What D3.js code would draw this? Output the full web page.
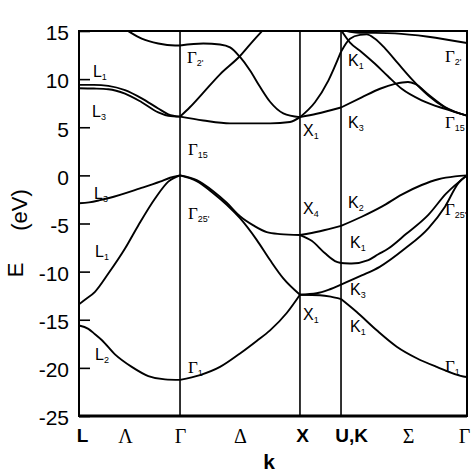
<!DOCTYPE html>
<html><head><meta charset="utf-8">
<script src="https://cdn.jsdelivr.net/npm/d3@7"></script>
<style>body{margin:0;background:#fff} svg{display:block}</style>
</head><body><svg id="c" width="474" height="474"></svg>
<script>
// high-symmetry k positions (L, Γ, X, U/K, Γ)
const kPoints = [0, 0.854, 1.868, 2.215, 3.280];
const kTickPos = [0, 0.427, 0.854, 1.361, 1.868, 2.215, 2.747, 3.280];
const kTickLabels = ["L", "Λ", "Γ", "Δ", "X", "U,K", "Σ", "Γ"];
const eTicks = [15, 10, 5, 0, -5, -10, -15, -20, -25];

// bands as [k, E(eV)]
const bandV1 = [[0,-15.6],[0.079,-15.95],[0.135,-16.5],[0.192,-17.1],[0.304,-18.6],[0.446,-19.9],[0.586,-20.85],[0.727,-21.2],[0.854,-21.25],
  [1.023,-20.75],[1.192,-19.9],[1.361,-18.5],[1.502,-17.2],[1.615,-16.1],[1.756,-14.3],[1.868,-12.4],
  [2.037,-12.45],[2.128,-12.6],[2.215,-12.85],
  [2.348,-14.2],[2.517,-16.1],[2.686,-17.8],[2.855,-19.0],[3.024,-19.9],[3.249,-20.9],[3.28,-20.95]];
const bandV2 = [[0,-13.4],[0.036,-13.05],[0.135,-12.1],[0.248,-10.2],[0.389,-7.6],[0.501,-5.2],[0.643,-2.4],[0.755,-0.65],[0.854,0],
  [0.995,-0.6],[1.135,-1.85],[1.249,-3.05],[1.361,-4.45],[1.502,-6.7],[1.615,-8.8],[1.727,-10.7],[1.868,-12.4],
  [2.009,-12.25],[2.108,-11.9],[2.215,-11.35],
  [2.39,-10.4],[2.542,-9.5],[2.756,-7.6],[2.953,-5.5],[3.094,-3.25],[3.207,-0.8],[3.28,0]];
const bandV3 = [[0,-2.9],[0.085,-2.8],[0.169,-2.6],[0.254,-2.35],[0.516,-1.35],[0.685,-0.65],[0.77,-0.25],[0.854,0],
  [0.995,-0.5],[1.135,-1.65],[1.249,-2.85],[1.361,-4.25],[1.474,-5.2],[1.587,-5.9],[1.699,-6.1],[1.868,-6.2],
  [2.037,-5.8],[2.215,-5.25],
  [2.39,-4.3],[2.559,-3.25],[2.728,-2.0],[2.897,-1.0],[3.038,-0.4],[3.179,-0.1],[3.28,0]];
const bandV4 = [[1.868,-6.2],[1.967,-6.8],[2.080,-8.1],[2.164,-8.9],[2.215,-9.1],
  [2.305,-9.15],[2.446,-8.8],[2.53,-8.2],[2.615,-7.6],[2.764,-6.1],[2.953,-4.1],[3.103,-1.9],[3.28,0]];
const bandC1 = [[0,9.4],[0.125,9.4],[0.248,9.3],[0.389,8.85],[0.53,8.0],[0.67,6.95],[0.755,6.35],[0.854,6.1],
  [0.939,7.1],[1.051,8.6],[1.192,10.5],[1.361,12.4],[1.474,14.0],[1.556,15.1],[1.699,17.0]];
const bandC2 = [[0,9.05],[0.125,9.02],[0.248,8.95],[0.389,8.5],[0.53,7.6],[0.67,6.55],[0.755,6.2],[0.854,6.1],
  [1.051,5.7],[1.277,5.4],[1.615,5.4],[1.784,5.55],[1.868,6.05],
  [2.009,6.4],[2.215,7.05],
  [2.39,8.1],[2.545,9.0],[2.671,9.5],[2.781,9.7],[2.841,9.5],[2.953,8.4],[3.094,7.1],[3.28,6.2]];
const bandC3 = [[0,17.5],[0.262,16.2],[0.414,15.0],[0.53,14.2],[0.67,13.7],[0.812,13.5],[0.854,13.5],
  [1.051,13.7],[1.192,13.6],[1.277,13.3],[1.361,12.3],[1.446,10.9],[1.53,9.2],[1.615,7.65],[1.727,6.45],[1.868,6.05],
  [1.995,7.6],[2.108,9.85],[2.215,12.85],
  [2.291,14.2],[2.376,14.6],[2.432,14.65],[2.502,14.2],[2.587,13.2],[2.699,11.6],[2.813,10.0],[2.883,9.1],[2.953,8.3],[3.094,7.05],[3.28,6.2]];
const bandC4 = [[2.215,15.1],[2.291,13.8],[2.39,12.8],[2.502,11.6],[2.612,10.3],[2.728,9.0],[2.897,7.8],[3.094,6.9],[3.28,6.2]];
const bandC5 = [[2.215,15.3],[2.249,15.05],[2.34,14.85],[2.671,14.75],[2.953,14.4],[3.28,13.75]];
const bands = [bandV1, bandV2, bandV3, bandV4, bandC1, bandC2, bandC3, bandC4, bandC5];

// symmetry labels: main letter, subscript, anchor [k, E]
const symLabels = [
  ["L","1",0.118,10.22],["L","3",0.110,6.06],["L","3",0.127,-2.45],["L","1",0.135,-8.48],["L","2",0.135,-19.18],
  ["Γ","2'",0.913,11.68],["Γ","15",0.921,2.12],["Γ","25'",0.921,-4.53],["Γ","1",0.921,-20.53],
  ["X","1",1.894,4.09],["X","4",1.894,-4.01],["X","1",1.894,-15.03],
  ["K","1",2.274,11.36],["K","3",2.274,4.92],["K","2",2.274,-3.39],["K","1",2.291,-7.55],["K","3",2.291,-12.43],["K","1",2.291,-16.27],
  ["Γ","2'",3.094,11.78],["Γ","15",3.094,4.92],["Γ","25'",3.094,-4.12],["Γ","1",3.094,-20.43]
];

const svg = d3.select("#c");
const x = d3.scaleLinear().domain([0, 3.28]).range([79, 467]);
const y = d3.scaleLinear().domain([-25, 15]).range([416, 31]);

svg.append("clipPath").attr("id","clip").append("rect")
  .attr("x",79).attr("y",31).attr("width",388).attr("height",385);

const line = d3.line().x(d=>x(d[0])).y(d=>y(d[1])).curve(d3.curveMonotoneX);
function segments(band){
  const out=[];
  for(let i=0;i<kPoints.length-1;i++){
    const a=kPoints[i], b=kPoints[i+1];
    const pts=band.filter(p=>p[0]>=a-1e-6 && p[0]<=b+1e-6);
    if(pts.length>1) out.push(pts);
  }
  return out;
}
const gb = svg.append("g").attr("clip-path","url(#clip)");
bands.forEach(b=>{
  segments(b).forEach(s=>{
    gb.append("path").attr("d",line(s)).attr("fill","none")
      .attr("stroke","#000").attr("stroke-width",1.9).attr("stroke-linejoin","round");
  });
});

// vertical lines at Γ, X, K
svg.append("g").selectAll("line").data(kPoints.slice(1,4)).join("line")
  .attr("x1",d=>x(d)).attr("x2",d=>x(d)).attr("y1",y(15)).attr("y2",y(-25))
  .attr("stroke","#000").attr("stroke-width",1.6);

// frame
svg.append("rect").attr("x",x(0)).attr("y",y(15)).attr("width",x(3.28)-x(0)).attr("height",y(-25)-y(15))
  .attr("fill","none").attr("stroke","#000").attr("stroke-width",2);
svg.append("line").attr("x1",x(0)).attr("x2",x(3.28)).attr("y1",y(-25)).attr("y2",y(-25))
  .attr("stroke","#000").attr("stroke-width",3);

// y axis
const ya = svg.append("g").attr("transform",`translate(${x(0)},0)`)
  .call(d3.axisLeft(y).tickValues(eTicks).tickSizeInner(-11).tickSizeOuter(0).tickPadding(10).tickFormat(d=>String(d)));
ya.select(".domain").remove();
ya.selectAll(".tick line").attr("stroke-width",1.6);
ya.selectAll(".tick text").attr("font-family","'Liberation Sans', Arial, sans-serif").attr("font-size",21).attr("dy","0.42em").attr("fill","#000");

// x axis
const nudge = [3,-4.5,0,0,2,10,4,-3];
const xa = svg.append("g").attr("transform",`translate(0,${y(-25)})`)
  .call(d3.axisBottom(x).tickValues(kTickPos).tickSize(0).tickPadding(13).tickFormat((d,i)=>kTickLabels[i]));
xa.select(".domain").remove();
xa.selectAll(".tick text").each(function(d,i){
  const t=d3.select(this);
  const greek = /[ΛΓΔΣ]/.test(kTickLabels[i]);
  t.attr("fill","#000").attr("dx",nudge[i])
   .attr("font-family", greek ? "'Liberation Serif', 'Times New Roman', serif" : "'Liberation Sans', Arial, sans-serif")
   .attr("font-weight", greek ? "normal" : "bold")
   .attr("font-size", greek ? 20 : 19);
});

// axis titles
svg.append("text").attr("x",269).attr("y",469).attr("text-anchor","middle")
  .attr("font-family","'Liberation Sans', Arial, sans-serif").attr("font-size",21).attr("font-weight","bold").text("k");
svg.append("text").attr("transform","translate(23,270) rotate(-90)").attr("text-anchor","middle")
  .attr("font-family","'Liberation Sans', Arial, sans-serif").attr("font-size",22).text("E");
svg.append("text").attr("transform","translate(27,210) rotate(-90)").attr("text-anchor","middle")
  .attr("font-family","'Liberation Sans', Arial, sans-serif").attr("font-size",22).text("(eV)");

// symmetry labels
const gl = svg.append("g");
symLabels.forEach(([m,s,k,e])=>{
  const greek = m==="Γ";
  const t = gl.append("text").attr("x",x(k)).attr("y",y(e)).attr("fill","#000");
  t.append("tspan").text(m)
    .attr("font-family", greek ? "'Liberation Serif', serif" : "'Liberation Sans', Arial, sans-serif")
    .attr("font-size", greek ? 17 : 16);
  t.append("tspan").text(s).attr("dy",3)
    .attr("font-family","'Liberation Sans', Arial, sans-serif").attr("font-size",9);
});
</script></body></html>
